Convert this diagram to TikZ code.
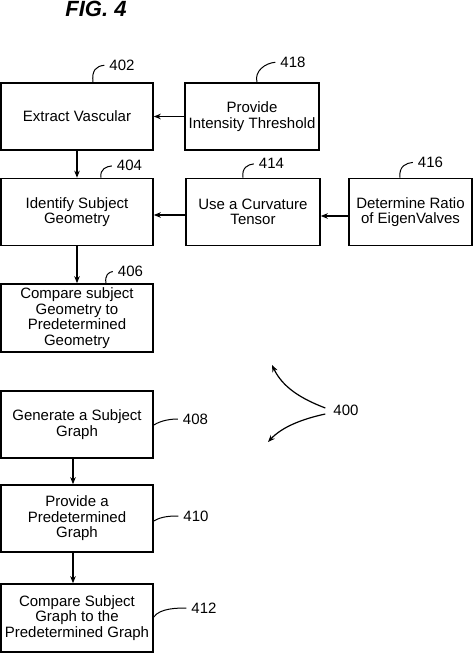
\documentclass[tikz,border=0pt]{standalone}
\usepackage{fontspec}
\setmainfont{Liberation Sans}
\usetikzlibrary{positioning,arrows.meta}

\tikzset{
  blk/.style={draw, line width=1.6pt, minimum height=67pt, inner sep=1pt, align=center, font=\fontsize{15}{15.5}\selectfont},
  refno/.style={inner sep=1pt, font=\fontsize{15}{15}\selectfont},
  flow/.style={-{Stealth[length=7pt,width=5.5pt]}, line width=1.2pt},
  leader/.style={line width=1pt, shorten >=4pt},
}

\begin{document}
\begin{tikzpicture}[x=1pt,y=-1pt]
\useasboundingbox (0,0) rectangle (474,653);
\node[font=\fontsize{22}{22}\selectfont\bfseries\itshape, anchor=base] (fig) at (96,16.5) {FIG. 4};

% geometry part
\node[blk, minimum width=152pt] (b402) at (77,116.5) {Extract Vascular};
\node[blk, minimum width=134pt] (b418) at (252,116.5) {Provide\\Intensity Threshold};
\node[blk, minimum width=152pt] (b404) at (77,212) {Identify Subject\\Geometry};
\node[blk, minimum width=134pt] (b414) at (253,212) {Use a Curvature\\Tensor};
\node[blk, minimum width=123pt] (b416) at (410.5,212) {Determine Ratio\\of EigenValves};
\node[blk, minimum width=152pt, minimum height=68pt] (b406) at (77,318) {Compare subject\\Geometry to\\Predetermined\\Geometry};

\draw[flow] (b418) -- (b402);
\draw[flow] (b402) -- (b404);
\draw[flow] ([yshift=-3pt]b414.west) -- ([yshift=-3pt]b404.east);
\draw[flow] ([yshift=-4pt]b416.west) -- ([yshift=-4pt]b414.east);
\draw[flow] (b404) -- (b406);

% graph part
\node[blk, minimum width=152pt] (b408) at (77,424.5) {Generate a Subject\\Graph};
\node[blk, minimum width=152pt] (b410) at (77,518.5) {Provide a\\Predetermined\\Graph};
\node[blk, minimum width=152pt, minimum height=68pt] (b412) at (77,618) {Compare Subject\\Graph to the\\Predetermined Graph};

\draw[flow] ([xshift=-4pt]b408.south) -- ([xshift=-4pt]b410.north);
\draw[flow] ([xshift=-4pt]b410.south) -- ([xshift=-4pt]b412.north);

% reference numerals
\node[refno] (n402) at (122,65) {402};
\node[refno] (n418) at (293,62) {418};
\node[refno] (n404) at (129.5,165.5) {404};
\node[refno] (n414) at (271.5,163.5) {414};
\node[refno] (n416) at (430.5,162) {416};
\node[refno] (n406) at (130.5,271) {406};
\node[refno] (n408) at (195.5,419) {408};
\node[refno] (n410) at (196,516) {410};
\node[refno] (n412) at (204,608) {412};

\draw[leader] ([xshift=16pt]b402.north) .. controls +(-1.5,-12) and +(-12,1) .. (n402.west);
\draw[leader] ([xshift=5pt]b418.north) .. controls +(-3,-11) and +(-14,1) .. (n418.west);
\draw[leader] ([xshift=24pt]b404.north) .. controls +(-1.5,-9) and +(-9,1) .. (n404.west);
\draw[leader] ([xshift=-10pt]b414.north) .. controls +(-1.5,-10) and +(-10,1) .. (n414.west);
\draw[leader] ([xshift=-10.5pt]b416.north) .. controls +(-1.5,-12) and +(-10,1) .. (n416.west);
\draw[leader] ([xshift=29pt]b406.north) .. controls +(-1.5,-8) and +(-8,1) .. (n406.west);
\draw[leader] ([yshift=-0.5pt]b408.east) .. controls +(8,-5) and +(-10,0) .. (n408.west);
\draw[leader] ([yshift=-2.5pt]b410.east) .. controls +(8,-5) and +(-10,0) .. (n410.west);
\draw[leader] ([yshift=1pt]b412.east) .. controls +(6,-9) and +(-12,0) .. (n412.west);

% overall numeral
\node[refno] (n400) at (346,410) {400};
\coordinate (tip1) at (272,365);
\coordinate (tip2) at (268,442);
\draw[flow] ([xshift=-7pt,yshift=2pt]n400.west) .. controls (302,399) and (283,388) .. (tip1);
\draw[flow] ([xshift=-7pt,yshift=-4pt]n400.west) .. controls (302,419) and (282,427) .. (tip2);
\end{tikzpicture}
\end{document}
